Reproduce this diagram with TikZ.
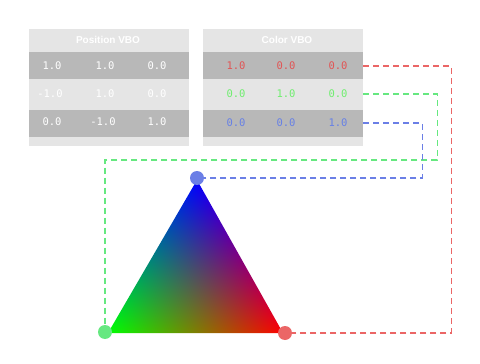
\documentclass[tikz,border=0pt]{standalone}
\usepackage{fontspec}
\setmainfont{Liberation Sans}
\setmonofont{DejaVu Sans Mono}
\definecolor{redc}{RGB}{235,102,102}
\definecolor{greenc}{RGB}{102,232,128}
\definecolor{bluec}{RGB}{107,127,230}
\definecolor{redt}{RGB}{226,84,84}
\definecolor{greent}{RGB}{110,238,110}
\definecolor{bluet}{RGB}{102,128,230}
\definecolor{lightrow}{RGB}{229,229,229}
\definecolor{darkrow}{RGB}{184,184,184}
\pgfdeclarefunctionalshading{bary}{\pgfpoint{0bp}{0bp}}{\pgfpoint{100bp}{100bp}}{}{
25 sub 50 div exch 1 index 25 mul sub 25 sub 50 div
2 copy add 1 exch sub 3 -1 roll
dup 0 lt {pop 0} if dup 1 gt {pop 1} if 3 1 roll
dup 0 lt {pop 0} if dup 1 gt {pop 1} if 3 1 roll
dup 0 lt {pop 0} if dup 1 gt {pop 1} if 3 1 roll
}
\tikzset{
  band/.style={draw=none, inner sep=0pt, anchor=north west, minimum width=160pt},
  lband/.style={band, fill=lightrow},
  dband/.style={band, fill=darkrow},
  hdr/.style={text=white, font=\bfseries\fontsize{10}{12}\selectfont},
  num/.style={font=\ttfamily\fontsize{10.5}{12}\selectfont, text=white},
  conn/.style={dashed, dash pattern=on 6pt off 4pt, line width=1.5pt},
  dot/.style={circle, inner sep=0pt, minimum size=14pt, draw=none},
}
\begin{document}
\begin{tikzpicture}[x=1pt,y=-1pt]
\useasboundingbox (0,0) rectangle (480,364);
% Position table
\node[lband, minimum height=23pt] (phead) at (29,29) {};
\node[dband, minimum height=27pt] (prow1) at (29,52) {};
\node[lband, minimum height=31pt] (prow2) at (29,79) {};
\node[dband, minimum height=27pt] (prow3) at (29,110) {};
\node[lband, minimum height=9pt] (pfoot) at (29,137) {};
\node[hdr] (ptitle) at (108,40) {Position VBO};
\node[num] (p11) at (52,66) {1.0};
\node[num] (p12) at (105,66) {1.0};
\node[num] (p13) at (157,66) {0.0};
\node[num] (p21) at (50,94) {-1.0};
\node[num] (p22) at (105,94) {1.0};
\node[num] (p23) at (157,94) {0.0};
\node[num] (p31) at (52,122) {0.0};
\node[num] (p32) at (103,122) {-1.0};
\node[num] (p33) at (157,122) {1.0};
% Color table
\node[lband, minimum height=23pt] (chead) at (203,29) {};
\node[dband, minimum height=27pt] (crow1) at (203,52) {};
\node[lband, minimum height=31pt] (crow2) at (203,79) {};
\node[dband, minimum height=27pt] (crow3) at (203,110) {};
\node[lband, minimum height=9pt] (cfoot) at (203,137) {};
\node[hdr] (ctitle) at (287,40) {Color VBO};
\node[num, text=redt] (c11) at (236,66) {1.0};
\node[num, text=redt] (c12) at (286,66) {0.0};
\node[num, text=redt] (c13) at (338,66) {0.0};
\node[num, text=greent] (c21) at (236,94) {0.0};
\node[num, text=greent] (c22) at (286,94) {1.0};
\node[num, text=greent] (c23) at (338,94) {0.0};
\node[num, text=bluet] (c31) at (236,123) {0.0};
\node[num, text=bluet] (c32) at (286,123) {0.0};
\node[num, text=bluet] (c33) at (338,123) {1.0};
% Triangle
\shade[shading=bary] (108,333) -- (283,333) -- (197,180) -- cycle;
% Dots (coordinates)
\coordinate (bpos) at (197,178);
\coordinate (gpos) at (105,332);
\coordinate (rpos) at (285,333);
% Connectors
\draw[conn, redc] (crow1.east |- c13) -- ++(88,0) |- (rpos);
\draw[conn, greenc] (crow2.east |- c23) -- ++(74,0) -- ++(0,66) -| (gpos);
\draw[conn, bluec] (crow3.east |- c33) -- ++(59,0) |- (bpos);
% Dots
\node[dot, fill=bluec] (bdot) at (bpos) {};
\node[dot, fill=greenc] (gdot) at (gpos) {};
\node[dot, fill=redc] (rdot) at (rpos) {};
\end{tikzpicture}
\end{document}
